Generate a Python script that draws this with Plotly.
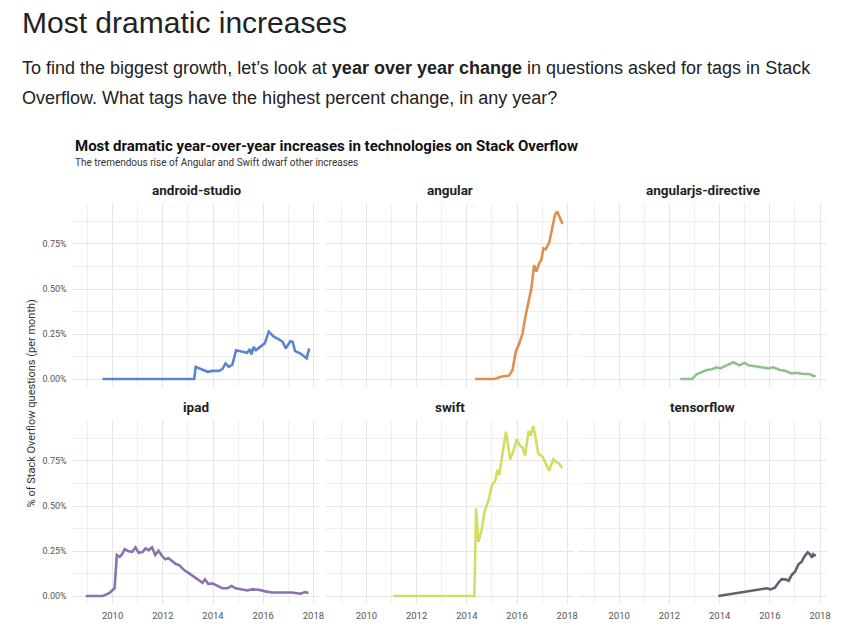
import plotly.graph_objects as go

# ---------------- data (decimal year, % of Stack Overflow questions per month) ----------------
tags = ["android-studio", "angular", "angularjs-directive", "ipad", "swift", "tensorflow"]
tag_colors = ["#5B84D3", "#E08F4E", "#8CC38A", "#8A71B0", "#D4DD63", "#5B6270"]

android_x = [2009.60, 2013.25, 2013.31, 2013.58, 2013.78, 2013.97, 2014.24, 2014.37, 2014.50, 2014.63,
             2014.77, 2014.92, 2015.16, 2015.36, 2015.47, 2015.53, 2015.62, 2015.71, 2015.89, 2016.06,
             2016.22, 2016.42, 2016.61, 2016.77, 2016.90, 2017.08, 2017.17, 2017.27, 2017.47, 2017.64,
             2017.73, 2017.83]
android_y = [0.000, 0.000, 0.068, 0.050, 0.040, 0.045, 0.045, 0.055, 0.087, 0.068,
             0.080, 0.160, 0.152, 0.146, 0.166, 0.137, 0.178, 0.160, 0.180, 0.198,
             0.263, 0.235, 0.222, 0.207, 0.170, 0.210, 0.207, 0.155, 0.143, 0.124,
             0.115, 0.170]

angular_x = [2014.33, 2015.10, 2015.36, 2015.69, 2015.82, 2015.95, 2016.09, 2016.22, 2016.32, 2016.46,
             2016.57, 2016.68, 2016.77, 2016.88, 2016.97, 2017.05, 2017.14, 2017.28, 2017.41, 2017.51,
             2017.60, 2017.70, 2017.81]
angular_y = [0.000, 0.000, 0.013, 0.020, 0.050, 0.152, 0.198, 0.254, 0.337, 0.430,
             0.504, 0.633, 0.596, 0.643, 0.662, 0.726, 0.720, 0.757, 0.856, 0.911,
             0.930, 0.900, 0.861]

directive_x = [2012.43, 2012.90, 2013.10, 2013.29, 2013.49, 2013.69, 2013.89, 2014.02, 2014.29, 2014.55,
               2014.79, 2014.99, 2015.15, 2015.41, 2015.74, 2015.94, 2016.14, 2016.40, 2016.60, 2016.87,
               2017.06, 2017.33, 2017.57, 2017.73, 2017.82]
directive_y = [0.000, 0.000, 0.028, 0.037, 0.050, 0.054, 0.065, 0.059, 0.076, 0.093,
               0.076, 0.090, 0.076, 0.070, 0.065, 0.059, 0.065, 0.050, 0.046, 0.031,
               0.035, 0.028, 0.028, 0.020, 0.013]

ipad_x = [2008.93, 2009.62, 2009.88, 2010.08, 2010.17, 2010.28, 2010.37, 2010.48, 2010.61, 2010.78,
          2010.91, 2011.04, 2011.20, 2011.31, 2011.44, 2011.57, 2011.70, 2011.83, 2011.97, 2012.10,
          2012.23, 2012.36, 2012.52, 2012.65, 2012.85, 2013.05, 2013.25, 2013.45, 2013.58, 2013.68,
          2013.81, 2013.97, 2014.17, 2014.37, 2014.57, 2014.74, 2014.90, 2015.16, 2015.36, 2015.56,
          2015.82, 2016.09, 2016.35, 2016.75, 2017.14, 2017.47, 2017.67, 2017.80]
ipad_y = [0.000, 0.000, 0.018, 0.043, 0.228, 0.218, 0.230, 0.260, 0.250, 0.245,
          0.270, 0.240, 0.245, 0.265, 0.255, 0.270, 0.228, 0.252, 0.222, 0.204,
          0.210, 0.197, 0.178, 0.172, 0.144, 0.126, 0.107, 0.085, 0.074, 0.093,
          0.067, 0.070, 0.056, 0.043, 0.043, 0.056, 0.043, 0.035, 0.031, 0.037,
          0.035, 0.026, 0.020, 0.020, 0.020, 0.013, 0.022, 0.017]

swift_x = [2011.07, 2014.30, 2014.37, 2014.46, 2014.59, 2014.70, 2014.87, 2015.00, 2015.12, 2015.22,
           2015.29, 2015.39, 2015.56, 2015.73, 2015.89, 2015.99, 2016.11, 2016.22, 2016.32, 2016.46,
           2016.55, 2016.64, 2016.72, 2016.84, 2017.01, 2017.14, 2017.28, 2017.34, 2017.45, 2017.56,
           2017.67, 2017.80]
swift_y = [0.000, 0.000, 0.487, 0.300, 0.367, 0.468, 0.533, 0.617, 0.635, 0.700,
           0.672, 0.756, 0.913, 0.760, 0.820, 0.870, 0.835, 0.826, 0.778, 0.917,
           0.890, 0.944, 0.895, 0.793, 0.774, 0.737, 0.696, 0.720, 0.760, 0.743,
           0.737, 0.710]

tensorflow_x = [2013.95, 2015.87, 2016.03, 2016.20, 2016.34, 2016.47, 2016.64, 2016.75, 2016.87, 2017.00,
                2017.14, 2017.27, 2017.37, 2017.51, 2017.60, 2017.68, 2017.73, 2017.83]
tensorflow_y = [0.000, 0.043, 0.037, 0.046, 0.074, 0.094, 0.092, 0.085, 0.117, 0.135,
                0.176, 0.191, 0.218, 0.243, 0.232, 0.213, 0.232, 0.222]

series_x = [android_x, angular_x, directive_x, ipad_x, swift_x, tensorflow_x]
series_y = [android_y, angular_y, directive_y, ipad_y, swift_y, tensorflow_y]

heading = "Most dramatic increases"
para_line1 = "To find the biggest growth, let’s look at <b>year over year change</b> in questions asked for tags in Stack"
para_line2 = "Overflow. What tags have the highest percent change, in any year?"
chart_title = "Most dramatic year-over-year increases in technologies on Stack Overflow"
chart_subtitle = "The tremendous rise of Angular and Swift dwarf other increases"
y_title = "% of Stack Overflow questions (per month)"

# ---------------- layout geometry (pixels of the 850x640 canvas) ----------------
W, H = 850, 640
col_px = [(72, 322), (327, 577), (581, 831)]
row_px = [(203.2, 387.4), (420.2, 604.4)]
x_range = [2008.37, 2018.28]
y_range = [-0.0465, 0.9765]

FONT = "Roboto"
GRID = "#E6E6E6"
MINOR = "#EFEFEF"

fig = go.Figure()
layout = dict(
    width=W, height=H, autosize=False,
    margin=dict(l=0, r=0, t=0, b=0, pad=0),
    paper_bgcolor="white", plot_bgcolor="white",
    showlegend=False,
    font=dict(family=FONT, color="#444"),
)

annotations = []
for i, tag in enumerate(tags):
    r, c = divmod(i, 3)
    sfx = "" if i == 0 else str(i + 1)
    fig.add_trace(go.Scatter(
        x=series_x[i], y=series_y[i], mode="lines",
        line=dict(color=tag_colors[i], width=2.6),
        xaxis="x" + sfx, yaxis="y" + sfx, hoverinfo="skip", name=tag,
    ))
    x0, x1 = col_px[c]
    y0, y1 = row_px[r]
    layout["xaxis" + sfx] = dict(
        domain=[x0 / W, x1 / W], range=x_range, anchor="y" + sfx,
        tickmode="linear", tick0=2010, dtick=2, tickformat="d",
        showticklabels=(r == 1), ticks="", ticklabelstandoff=4,
        tickfont=dict(family=FONT, size=9.5, color="#555"),
        showgrid=True, gridcolor=GRID, gridwidth=1,
        minor=dict(tickmode="linear", tick0=2009, dtick=1, showgrid=True, gridcolor=MINOR, gridwidth=1),
        zeroline=False, showline=False, fixedrange=True,
    )
    layout["yaxis" + sfx] = dict(
        domain=[1 - y1 / H, 1 - y0 / H], range=y_range, anchor="x" + sfx,
        tickmode="linear", tick0=0, dtick=0.25, tickformat=".2f", ticksuffix="%",
        showticklabels=(c == 0), ticks="", ticklabelstandoff=4,
        tickfont=dict(family=FONT, size=9, color="#555"),
        showgrid=True, gridcolor=GRID, gridwidth=1,
        minor=dict(tickmode="linear", tick0=0, dtick=0.125, showgrid=True, gridcolor=MINOR, gridwidth=1),
        zeroline=False, showline=False, fixedrange=True,
    )
    annotations.append(dict(
        text="<b>" + tag + "</b>", x=(x0 + x1) / 2 / W, y=1 - (190 if r == 0 else 407) / H,
        xref="paper", yref="paper", xanchor="center", yanchor="middle", showarrow=False,
        font=dict(family=FONT, size=13.5, color="#222"),
    ))

def txt(text, px, py, size, family, color="#222", **kw):
    d = dict(text=text, x=px / W, y=1 - py / H, xref="paper", yref="paper",
             xanchor="left", yanchor="middle", showarrow=False,
             font=dict(family=family, size=size, color=color))
    d.update(kw)
    return d

annotations += [
    txt(heading, 20, 23, 30, "Liberation Sans", "#222"),
    txt(para_line1, 20, 68, 18, "Liberation Sans", "#222"),
    txt(para_line2, 20, 98, 18, "Liberation Sans", "#222"),
    txt("<b>" + chart_title + "</b>", 73, 146, 15, FONT, "#111"),
    txt(chart_subtitle, 73, 163, 10, FONT, "#333"),
    dict(text=y_title, x=32 / W, y=1 - 403.5 / H, xref="paper", yref="paper",
         xanchor="center", yanchor="middle", textangle=-90, showarrow=False,
         font=dict(family=FONT, size=11, color="#333")),
]
layout["annotations"] = annotations
fig.update_layout(**layout)

fig.write_html(
    "out.html",
    config={"displayModeBar": False},
    post_script="document.body.style.margin='0';document.body.style.padding='0';",
)
